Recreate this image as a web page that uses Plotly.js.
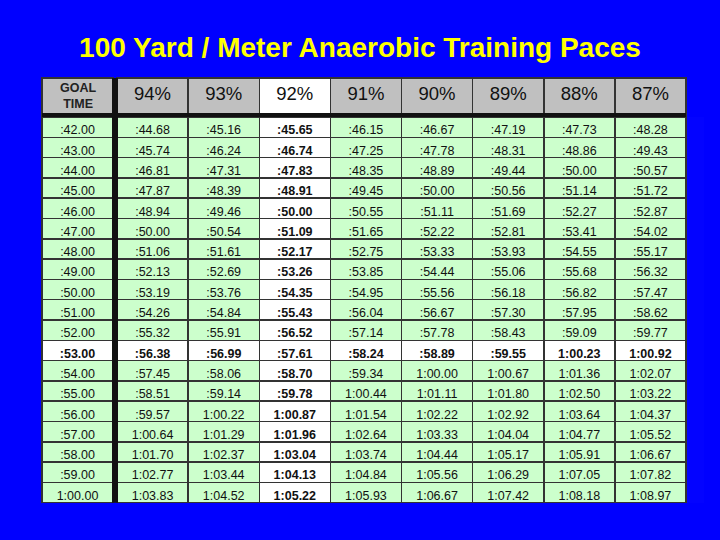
<!DOCTYPE html>
<html>
<head>
<meta charset="utf-8">
<script src="https://cdn.plot.ly/plotly-3.0.1.min.js"></script>
<style>
  body { margin: 0; background: #0000ff; }
  #plot { width: 720px; height: 540px; }
</style>
</head>
<body>
<div id="plot"></div>
<script>
// paces for 100 yards/meters at each percentage of goal time
var goalTimes = [":42.00", ":43.00", ":44.00", ":45.00", ":46.00", ":47.00", ":48.00", ":49.00", ":50.00", ":51.00",
  ":52.00", ":53.00", ":54.00", ":55.00", ":56.00", ":57.00", ":58.00", ":59.00", "1:00.00"];

var percents = ["94%", "93%", "92%", "91%", "90%", "89%", "88%", "87%"];

var p94 = [":44.68", ":45.74", ":46.81", ":47.87", ":48.94", ":50.00", ":51.06", ":52.13", ":53.19", ":54.26",
  ":55.32", ":56.38", ":57.45", ":58.51", ":59.57", "1:00.64", "1:01.70", "1:02.77", "1:03.83"];
var p93 = [":45.16", ":46.24", ":47.31", ":48.39", ":49.46", ":50.54", ":51.61", ":52.69", ":53.76", ":54.84",
  ":55.91", ":56.99", ":58.06", ":59.14", "1:00.22", "1:01.29", "1:02.37", "1:03.44", "1:04.52"];
var p92 = [":45.65", ":46.74", ":47.83", ":48.91", ":50.00", ":51.09", ":52.17", ":53.26", ":54.35", ":55.43",
  ":56.52", ":57.61", ":58.70", ":59.78", "1:00.87", "1:01.96", "1:03.04", "1:04.13", "1:05.22"];
var p91 = [":46.15", ":47.25", ":48.35", ":49.45", ":50.55", ":51.65", ":52.75", ":53.85", ":54.95", ":56.04",
  ":57.14", ":58.24", ":59.34", "1:00.44", "1:01.54", "1:02.64", "1:03.74", "1:04.84", "1:05.93"];
var p90 = [":46.67", ":47.78", ":48.89", ":50.00", ":51.11", ":52.22", ":53.33", ":54.44", ":55.56", ":56.67",
  ":57.78", ":58.89", "1:00.00", "1:01.11", "1:02.22", "1:03.33", "1:04.44", "1:05.56", "1:06.67"];
var p89 = [":47.19", ":48.31", ":49.44", ":50.56", ":51.69", ":52.81", ":53.93", ":55.06", ":56.18", ":57.30",
  ":58.43", ":59.55", "1:00.67", "1:01.80", "1:02.92", "1:04.04", "1:05.17", "1:06.29", "1:07.42"];
var p88 = [":47.73", ":48.86", ":50.00", ":51.14", ":52.27", ":53.41", ":54.55", ":55.68", ":56.82", ":57.95",
  ":59.09", "1:00.23", "1:01.36", "1:02.50", "1:03.64", "1:04.77", "1:05.91", "1:07.05", "1:08.18"];
var p87 = [":48.28", ":49.43", ":50.57", ":51.72", ":52.87", ":54.02", ":55.17", ":56.32", ":57.47", ":58.62",
  ":59.77", "1:00.92", "1:02.07", "1:03.22", "1:04.37", "1:05.52", "1:06.67", "1:07.82", "1:08.97"];

var paceCols = [p94, p93, p92, p91, p90, p89, p88, p87];
var boldCol = 2;    // 92% column
var boldRow = 11;   // :53.00 row

var W = 720, H = 540;
var green = "#ccffcc";
var gray = "#c0c0c0";
function px(x) { return x / W; }
function py(y) { return 1 - y / H; }

var headH = 39, rowH = 20.3;
var tblTop = 78, tblBot = tblTop + headH + rowH * goalTimes.length;
var fam = "Liberation Sans, Arial";

// goal column (its header text is an annotation so the row doesn't grow)
var goalFill = goalTimes.map(function (v, i) { return i == boldRow ? "white" : green; });
var goalWeight = goalTimes.map(function (v, i) { return i == boldRow ? "bold" : "normal"; });

var goalTable = {
  type: "table",
  domain: { x: [px(42), px(113)], y: [py(tblBot + 1), py(tblTop)] },
  columnwidth: [1],
  header: {
    values: [""],
    height: headH,
    fill: { color: gray },
    line: { color: "#333", width: 1.5 }
  },
  cells: {
    values: [goalTimes],
    height: rowH,
    align: "center",
    fill: { color: [goalFill] },
    line: { color: "#333", width: 1.5 },
    font: { family: fam, size: 12.5, color: "#111", weight: [goalWeight] }
  }
};

var fills = paceCols.map(function (col, c) {
  return col.map(function (v, i) { return (c == boldCol || i == boldRow) ? "white" : green; });
});
var weights = paceCols.map(function (col, c) {
  return col.map(function (v, i) { return (c == boldCol || i == boldRow) ? "bold" : "normal"; });
});
var headFill = percents.map(function (p, c) { return c == boldCol ? "white" : gray; });

var paceTable = {
  type: "table",
  domain: { x: [px(117), px(686)], y: [py(tblBot + 1), py(tblTop)] },
  columnwidth: percents.map(function () { return 1; }),
  header: {
    values: percents,
    height: headH,
    align: "center",
    fill: { color: headFill },
    line: { color: "#333", width: 1.5 },
    font: { family: fam, size: 18.5, color: "#111" }
  },
  cells: {
    values: paceCols,
    height: rowH,
    align: "center",
    fill: { color: fills },
    line: { color: "#333", width: 1.5 },
    font: { family: fam, size: 12.5, color: "#111", weight: weights }
  }
};

var layout = {
  width: W,
  height: H,
  margin: { l: 0, r: 0, t: 0, b: 0 },
  paper_bgcolor: "#0000ff",
  title: {
    text: "100 Yard / Meter Anaerobic Training Paces",
    x: 0.5, xanchor: "center",
    y: py(47), yanchor: "middle",
    font: { family: fam, size: 28, color: "#ffff00", weight: "bold" }
  },
  annotations: [
    { text: "<b>GOAL<br>TIME</b>", xref: "paper", yref: "paper", x: px(77.5), y: py(96),
      xanchor: "center", yanchor: "middle", showarrow: false,
      font: { family: fam, size: 12.5, color: "#222" } }
  ],
  shapes: [
    // thick black rules: under the header and after the goal column
    { type: "rect", xref: "paper", yref: "paper", layer: "above",
      x0: px(42), x1: px(686), y0: py(tblTop + headH), y1: py(tblTop + headH - 4),
      fillcolor: "#111", line: { width: 0 } },
    { type: "rect", xref: "paper", yref: "paper", layer: "above",
      x0: px(112), x1: px(118), y0: py(tblBot), y1: py(tblTop),
      fillcolor: "#111", line: { width: 0 } }
  ]
};

Plotly.newPlot("plot", [goalTable, paceTable], layout, { displayModeBar: false });
</script>
</body>
</html>
